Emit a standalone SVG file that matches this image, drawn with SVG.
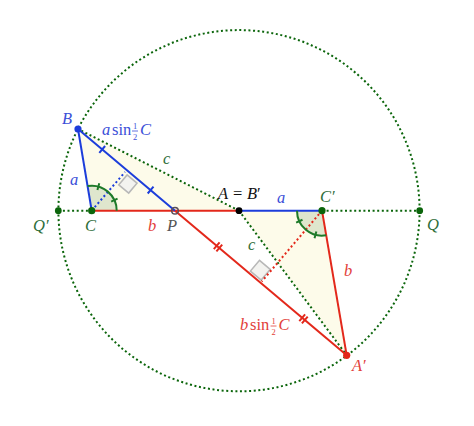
<svg xmlns="http://www.w3.org/2000/svg" width="474" height="426" viewBox="0 0 474 426">
<style>
.dot{fill:none;stroke:#0b650b;stroke-width:2;stroke-dasharray:2 2.6}
.blue{stroke:#1c3ddb;stroke-width:2;fill:none}
.red{stroke:#e3281b;stroke-width:2;fill:none}
.tri{fill:#fdfbea;stroke:none}
.sec{fill:#dfe6cd;stroke:none}
.arc{fill:none;stroke:#1e7a2a;stroke-width:2}
.sq{fill:#f3f3f0;stroke:#b8b8b8;stroke-width:1.6}
text{font-family:"Liberation Serif","DejaVu Serif",serif;font-size:16.5px}
text.fr{font-size:8.5px;text-anchor:middle}
.it{font-style:italic}
.tb{fill:#3b4fd8}
.tr{fill:#e2403a}
.tg{fill:#2f6e3a}
.tk{fill:#111}
.tp{fill:#555}
</style>
<rect width="474" height="426" fill="#fff"/>
<g id="fills">
<polygon class="tri" points="78,129 91.7,210.7 239,210.7"/>
<polygon class="tri" points="239,210.7 322,210.7 346.7,355.3"/>
<path class="sec" d="M91.7,210.7 L116.7,210.7 A25,25 0 0 0 87.56,186.05 Z"/>
<path class="sec" d="M322,210.7 L297,210.7 A25,25 0 0 0 326.21,235.34 Z"/>
<polygon class="sq" points="127.1,174.9 137,183.2 128.7,193.1 118.8,184.8"/>
<polygon class="sq" points="259.5,260.3 270.2,269.4 261.2,280.1 250.4,271.1"/>
</g>
<g id="connectors">
<circle class="dot" cx="239" cy="210.7" r="180.6"/>
<line class="dot" x1="58.3" y1="210.7" x2="91.7" y2="210.7"/>
<line class="dot" x1="322" y1="210.7" x2="419.7" y2="210.7"/>
<line class="dot" x1="239" y1="210.7" x2="78" y2="129"/>
<line class="dot" x1="239" y1="210.7" x2="346.7" y2="355.3"/>
<line class="blue" stroke-dasharray="2 2.6" x1="91.7" y1="210.7" x2="125" y2="172"/>
<line class="red" stroke-dasharray="2 2.6" x1="322" y1="210.7" x2="261.7" y2="281.5"/>
<line class="red" x1="91.7" y1="210.7" x2="239" y2="210.7"/>
<line class="red" x1="175" y1="210.7" x2="346.7" y2="355.3"/>
<line class="red" x1="322" y1="210.7" x2="346.7" y2="355.3"/>
<line class="blue" x1="78" y1="129" x2="91.7" y2="210.7"/>
<line class="blue" x1="78" y1="129" x2="175" y2="210.7"/>
<line class="blue" x1="239" y1="210.7" x2="322" y2="210.7"/>
<path class="arc" d="M116.7,210.7 A25,25 0 0 0 87.56,186.05"/>
<path class="arc" d="M297,210.7 A25,25 0 0 0 326.21,235.34"/>
<path class="arc" d="M111.2,201.65 L117.55,198.7 M97.41,189.97 L99.27,183.22 M302.5,219.75 L296.15,222.7 M316.36,231.45 L314.53,238.2"/>
<path class="blue" d="M99.3,152.8 L105.1,146 M147.7,193.5 L153.5,186.7"/>
<path class="red" d="M213.8,249.2 L219.6,242.4 M216.4,251.4 L222.2,244.6 M299.3,321.2 L305.1,314.4 M301.9,323.4 L307.7,316.6"/>
</g>
<g id="node-B"><circle cx="78" cy="129" r="3.6" fill="#1c3ddb"/><text class="it tb" x="62" y="124">B</text></g>
<g id="node-C"><circle cx="91.7" cy="210.7" r="3.6" fill="#0b650b"/><text class="it tg" x="85" y="231">C</text></g>
<g id="node-Qp"><circle cx="58.3" cy="210.7" r="3.4" fill="#0b650b"/><text class="it tg" x="33" y="231">Q′</text></g>
<g id="node-Q"><circle cx="419.7" cy="210.7" r="3.4" fill="#0b650b"/><text class="it tg" x="427" y="230">Q</text></g>
<g id="node-Cp"><circle cx="322" cy="210.7" r="3.6" fill="#0b650b"/><text class="it tg" x="320" y="202">C′</text></g>
<g id="node-A"><circle cx="239" cy="210.7" r="3.4" fill="#000"/><text class="tk" x="218" y="199"><tspan class="it">A</tspan><tspan x="233">=</tspan><tspan class="it" x="247">B</tspan>′</text></g>
<g id="node-P"><circle cx="175" cy="210.7" r="3.3" fill="none" stroke="#5a4f58" stroke-width="1.5"/><text class="it tp" x="167" y="231">P</text></g>
<g id="node-Ap"><circle cx="346.7" cy="355.3" r="3.6" fill="#e3281b"/><text class="it tr" x="352" y="371">A′</text></g>
<g id="labels">
<text class="it tb" x="70" y="185">a</text>
<text class="it tb" x="277" y="203">a</text>
<text class="it tg" x="163" y="164">c</text>
<text class="it tg" x="248" y="250">c</text>
<text class="it tr" x="148" y="231">b</text>
<text class="it tr" x="344" y="276">b</text>
<g class="tb">
<text class="it" x="102" y="135">a</text>
<text x="112" y="135">sin</text>
<text class="fr" x="135" y="128.5">1</text>
<text class="fr" x="135" y="139.5">2</text>
<text class="it" x="140" y="135">C</text>
</g>
<line x1="132" y1="131" x2="138" y2="131" stroke="#3b4fd8" stroke-width="0.8"/>
<g class="tr">
<text class="it" x="240" y="330">b</text>
<text x="250" y="330">sin</text>
<text class="fr" x="273.5" y="323.5">1</text>
<text class="fr" x="273.5" y="334.5">2</text>
<text class="it" x="278.5" y="330">C</text>
</g>
<line x1="270.5" y1="326" x2="276.5" y2="326" stroke="#e2403a" stroke-width="0.8"/>
</g>
</svg>
